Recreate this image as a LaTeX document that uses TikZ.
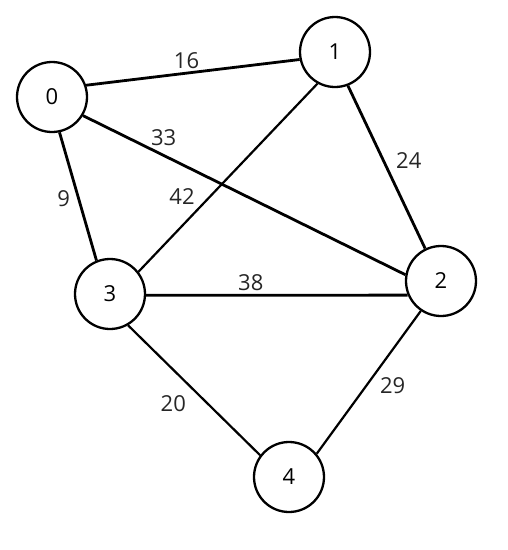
\documentclass[tikz,border=0pt]{standalone}
\usepackage{fontspec}
\setmainfont{Open Sans}
\usepackage{tikz}
\usetikzlibrary{positioning}
\tikzset{
 vertex/.style = {
    circle, draw, line width=2.3pt,
    minimum size=70pt, inner sep=0pt,
    font=\fontsize{22}{24}\selectfont},
 line/.style = {
    draw, line width=2.8pt},
 thin line/.style = {
    draw, line width=2.2pt},
 weight/.style = {
    font=\fontsize{22}{24}\selectfont, text=black!85},
}
\begin{document}
\begin{tikzpicture}[x=1pt, y=-1pt]
    \useasboundingbox (0,0) rectangle (508,550);

    % Place nodes
    \node [vertex] (0) at (52,97)   {0};
    \node [vertex] (1) at (335,52)  {1};
    \node [vertex] (2) at (441,281) {2};
    \node [vertex] (3) at (110,294) {3};
    \node [vertex] (4) at (289,477) {4};

    \path [line] (0.19) -- node [weight, pos=0.47, above] {16} (1.192);
    \path [line] (0.-31) -- node [weight, pos=0.25, above=5pt] {33} (2.170);
    \path [line] (0.-78) -- node [weight, pos=0.52, left=4pt] {9} (3.112);
    \path [line] (1.-69) -- node [weight, pos=0.46, right=8pt] {24} (2.116);
    \path [thin line] (1.241) -- node [weight, pos=0.6, left=11pt] {42} (3.38);
    \path [line] (3.-2) -- node [weight, pos=0.4, above] {38} (2.203);
    \path [thin line] (3.-60) -- node [weight, pos=0.6, left=17pt] {20} (4.143);
    \path [thin line] (2.236) -- node [weight, pos=0.52, right=9pt] {29} (4.40);

\end{tikzpicture}
\end{document}
